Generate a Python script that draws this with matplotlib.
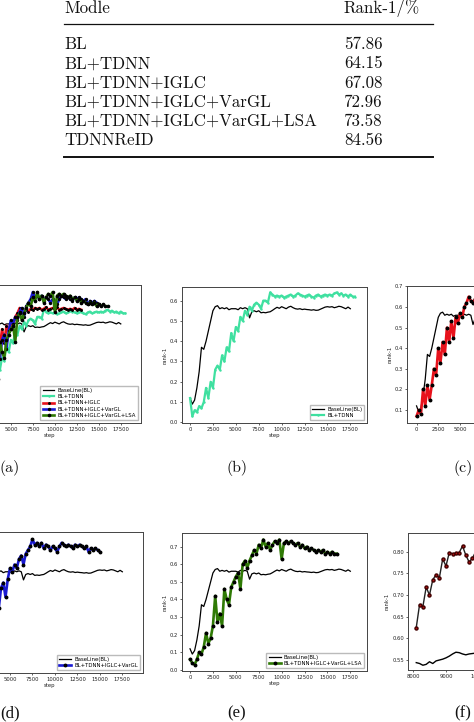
import matplotlib
matplotlib.use('Agg')
import matplotlib.pyplot as plt
from matplotlib.lines import Line2D
from matplotlib.ticker import MultipleLocator

W, H = 474, 722

# ---------------- table data ----------------
TABLE_HEADERS = ["Modle", "Rank-1/%"]
MODELS = ["BL", "BL+TDNN", "BL+TDNN+IGLC", "BL+TDNN+IGLC+VarGL",
          "BL+TDNN+IGLC+VarGL+LSA", "TDNNReID"]
RANK1 = ["57.86", "64.15", "67.08", "72.96", "73.58", "84.56"]

# ---------------- curve data ----------------
STEPS = [0, 250, 500, 750, 1000, 1250, 1500, 1750, 2000, 2250, 2500, 2750,
         3000, 3250, 3500, 3750, 4000, 4250, 4500, 4750, 5000, 5250, 5500, 5750,
         6000, 6250, 6500, 6750, 7000, 7250, 7500, 7750, 8000, 8250, 8500, 8750,
         9000, 9250, 9500, 9750, 10000, 10250, 10500, 10750, 11000, 11250, 11500,
         11750, 12000, 12250, 12500, 12750, 13000, 13250, 13500, 13750, 14000,
         14250, 14500, 14750, 15000, 15250, 15500, 15750, 16000, 16250, 16500,
         16750, 17000, 17250, 17500, 17750, 18000]

BL_VALUES = [0.12, 0.09, 0.11, 0.17, 0.25, 0.37, 0.36, 0.40, 0.45, 0.50, 0.55, 0.57,
             0.575, 0.56, 0.565, 0.56, 0.565, 0.555, 0.56, 0.56, 0.56, 0.555, 0.565, 0.56,
             0.565, 0.56, 0.515, 0.545, 0.55, 0.545, 0.55, 0.54, 0.542, 0.54, 0.543, 0.545,
             0.552, 0.56, 0.567, 0.562, 0.57, 0.565, 0.56, 0.568, 0.572, 0.565, 0.56,
             0.558, 0.56, 0.556, 0.558, 0.556, 0.555, 0.553, 0.555, 0.552, 0.553,
             0.558, 0.563, 0.568, 0.57, 0.568, 0.57, 0.565, 0.568, 0.572, 0.57,
             0.565, 0.56, 0.568, 0.56]

TDNN_VALUES = [0.12, 0.03, 0.06, 0.05, 0.08, 0.07, 0.10, 0.17, 0.12, 0.20, 0.17, 0.26,
               0.28, 0.26, 0.33, 0.30, 0.37, 0.35, 0.44, 0.40, 0.47, 0.45, 0.52, 0.50,
               0.55, 0.53, 0.57, 0.55, 0.58, 0.59, 0.58, 0.56, 0.60, 0.60, 0.59, 0.64,
               0.63, 0.62, 0.625, 0.62, 0.625, 0.615, 0.62, 0.625, 0.63, 0.62, 0.625,
               0.635, 0.63, 0.625, 0.62, 0.625, 0.63, 0.62, 0.615, 0.625, 0.63,
               0.62, 0.625, 0.63, 0.625, 0.63, 0.625, 0.635, 0.64, 0.63, 0.635,
               0.625, 0.63, 0.62, 0.63, 0.62, 0.62]

IGLC_VALUES = [0.07, 0.10, 0.08, 0.20, 0.12, 0.22, 0.15, 0.22, 0.30, 0.27, 0.40, 0.33,
               0.43, 0.37, 0.50, 0.43, 0.53, 0.45, 0.55, 0.52, 0.57, 0.55, 0.60, 0.62,
               0.65, 0.63, 0.62, 0.64, 0.63, 0.645, 0.64, 0.65, 0.645, 0.65, 0.64, 0.645,
               0.655, 0.64, 0.645, 0.65, 0.645, 0.655, 0.64, 0.645, 0.65, 0.645, 0.64,
               0.645, 0.64, 0.65, 0.64, 0.645, 0.64]

VARGL_VALUES = [0.06, 0.04, 0.05, 0.08, 0.10, 0.13, 0.16, 0.14, 0.20, 0.24, 0.22, 0.30,
                0.33, 0.28, 0.40, 0.36, 0.47, 0.50, 0.42, 0.52, 0.58, 0.56, 0.60, 0.58,
                0.63, 0.65, 0.60, 0.66, 0.68, 0.70, 0.74, 0.71, 0.72, 0.70, 0.72, 0.69,
                0.71, 0.70, 0.68, 0.70, 0.69, 0.67, 0.70, 0.72, 0.71, 0.70, 0.71,
                0.70, 0.69, 0.71, 0.70, 0.71, 0.70, 0.69, 0.70, 0.67, 0.69,
                0.68, 0.69, 0.68, 0.67]

LSA_VALUES = [0.06, 0.04, 0.03, 0.06, 0.10, 0.09, 0.13, 0.21, 0.15, 0.18, 0.25, 0.42,
              0.27, 0.32, 0.25, 0.46, 0.40, 0.37, 0.47, 0.50, 0.53, 0.55, 0.46, 0.60,
              0.62, 0.58, 0.62, 0.65, 0.68, 0.66, 0.71, 0.69, 0.74, 0.70, 0.72, 0.68,
              0.71, 0.73, 0.72, 0.74, 0.63, 0.72, 0.73, 0.72, 0.73, 0.72, 0.71,
              0.72, 0.70, 0.71, 0.69, 0.70, 0.68, 0.69, 0.68, 0.67, 0.68,
              0.67, 0.68, 0.66, 0.67, 0.66, 0.67, 0.66, 0.66]

# zoomed view (f)
F_STEPS = [8100, 8200, 8300, 8400, 8500, 8600, 8700, 8800, 8900, 9000,
           9100, 9200, 9300, 9400, 9500, 9600, 9700, 9800, 9900]
F_BL_VALUES = [0.544, 0.542, 0.538, 0.540, 0.546, 0.542, 0.548, 0.550, 0.552, 0.555,
               0.559, 0.564, 0.568, 0.567, 0.564, 0.562, 0.564, 0.565, 0.566]
F_TDNNREID_VALUES = [0.625, 0.678, 0.673, 0.718, 0.700, 0.735, 0.747, 0.740, 0.783, 0.767,
                     0.798, 0.795, 0.796, 0.798, 0.813, 0.792, 0.776, 0.785, 0.800]

SERIES_LABELS = ["BaseLine(BL)", "BL+TDNN", "BL+TDNN+IGLC",
                 "BL+TDNN+IGLC+VarGL", "BL+TDNN+IGLC+VarGL+LSA"]
PANEL_LABELS = ["(a)", "(b)", "(c)", "(d)", "(e)", "(f)"]

C_BL = 'black'
C_TDNN = '#3fe0a0'
C_IGLC = '#e8121c'
C_VARGL = '#1a1ad2'
C_LSA = '#2f7a05'

fig = plt.figure(figsize=(W / 100, H / 100), dpi=100)
fig.patch.set_facecolor('white')


def add_ax(x0, y0, x1, y1):
    return fig.add_axes([x0 / W, 1 - y1 / H, (x1 - x0) / W, (y1 - y0) / H])


def style(ax, xlim, ylim, xmaj):
    ax.set_xlim(*xlim)
    ax.set_ylim(*ylim)
    ax.xaxis.set_major_locator(MultipleLocator(xmaj))
    ax.tick_params(labelsize=3.8, length=1.5, width=0.5, pad=1.2, colors='#222')
    for s in ax.spines.values():
        s.set_linewidth(0.7)
        s.set_color('#444')
    ax.set_xlabel('step', fontsize=3.8, labelpad=1.2, color='#222')
    ax.set_ylabel('rank-1', fontsize=3.8, labelpad=2, color='#222')


def plot_bl(ax):
    ax.plot(STEPS[:len(BL_VALUES)], BL_VALUES, color=C_BL, lw=0.9,
            label=SERIES_LABELS[0])


def plot_tdnn(ax):
    ax.plot(STEPS[:len(TDNN_VALUES)], TDNN_VALUES, color=C_TDNN, lw=1.6,
            marker='.', ms=1.5, label=SERIES_LABELS[1])


def plot_marked(ax, vals, color, label, ms=1.8):
    ax.plot(STEPS[:len(vals)], vals, color=color, lw=1.9, marker='o', ms=ms,
            mfc='black', mec='black', label=label)


def legend(ax):
    ax.legend(loc='lower right', fontsize=3.9, labelspacing=0.25, handlelength=2.2,
              borderpad=0.4, handletextpad=0.6, frameon=True, fancybox=False,
              edgecolor='#bbb', framealpha=1)

# (a)
ax = add_ax(-41, 285, 141, 423)
plot_bl(ax)
plot_tdnn(ax)
plot_marked(ax, IGLC_VALUES, C_IGLC, SERIES_LABELS[2], ms=1.1)
plot_marked(ax, VARGL_VALUES, C_VARGL, SERIES_LABELS[3], ms=1.4)
plot_marked(ax, LSA_VALUES, C_LSA, SERIES_LABELS[4], ms=1.6)
style(ax, (-900, 19800), (0.0, 0.78), 2500)
legend(ax)

# (b)
ax = add_ax(182, 287, 367, 423)
plot_bl(ax)
plot_tdnn(ax)
style(ax, (-875, 19320), (-0.003, 0.667), 2500)
legend(ax)

# (c)
ax = add_ax(407, 286, 592, 423)
plot_bl(ax)
plot_marked(ax, IGLC_VALUES, C_IGLC, SERIES_LABELS[2])
style(ax, (-1100, 20200), (0.037, 0.702), 2500)

# (d)
ax = add_ax(-43, 532, 143, 673)
plot_bl(ax)
plot_marked(ax, VARGL_VALUES, C_VARGL, SERIES_LABELS[3])
style(ax, (-900, 19800), (0.0, 0.78), 2500)
legend(ax)

# (e)
ax = add_ax(182, 533, 367, 671)
plot_bl(ax)
plot_marked(ax, LSA_VALUES, C_LSA, SERIES_LABELS[4])
style(ax, (-875, 19320), (-0.006, 0.777), 2500)
legend(ax)

# (f)
ax = add_ax(408, 533, 593, 670)
ax.plot(F_STEPS, F_BL_VALUES, color=C_BL, lw=1.0)
ax.plot(F_STEPS, F_TDNNREID_VALUES, color='#222', lw=1.0, marker='o', ms=2.2,
        mfc='#b01010', mec='#400000')
style(ax, (7850, 13450), (0.527, 0.843), 1000)

# ---------------- table ----------------
TF = dict(family='cmr10', fontsize=12.2, color='#111')
fig.text(64 / W, 1 - 12.7 / H, TABLE_HEADERS[0], va='baseline', ha='left', **TF)
fig.text(344 / W, 1 - 12.7 / H, TABLE_HEADERS[1], va='baseline', ha='left', **TF)
row_y = [49.3, 68.3, 87.7, 106.7, 126.0, 145.0]
for yb, m, r in zip(row_y, MODELS, RANK1):
    fig.text(64 / W, 1 - yb / H, m, va='baseline', ha='left', **TF)
    fig.text(344 / W, 1 - yb / H, r, va='baseline', ha='left', **TF)
fig.add_artist(Line2D([64 / W, 433 / W], [1 - 24 / H, 1 - 24 / H],
                      transform=fig.transFigure, color='#111', lw=0.9))
fig.add_artist(Line2D([64 / W, 433 / W], [1 - 157 / H, 1 - 157 / H],
                      transform=fig.transFigure, color='#111', lw=1.4))

# ---------------- panel labels ----------------
for lab, (cx, cy) in zip(PANEL_LABELS[:3], [(10, 468), (237, 468), (463, 468)]):
    fig.text(cx / W, 1 - cy / H, lab, ha='center', va='center',
             family='cmr10', fontsize=11.5, color='#111')
for lab, (cx, cy) in zip(PANEL_LABELS[3:], [(10, 713), (237, 713), (463, 713)]):
    fig.text(cx / W, 1 - cy / H, lab, ha='center', va='center',
             family='Liberation Serif', fontsize=12, color='#111')

fig.savefig('out.png', dpi=100)
